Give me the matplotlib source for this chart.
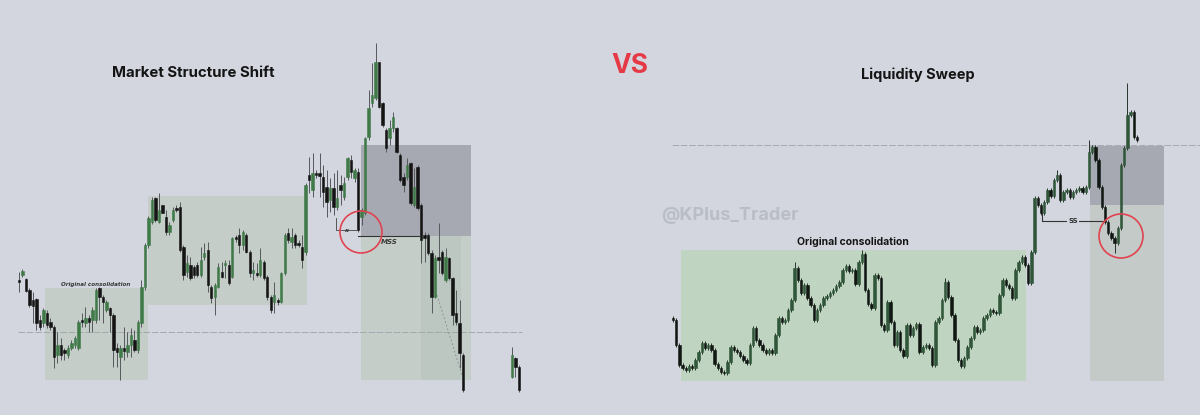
"""Market Structure Shift vs Liquidity Sweep - two hand-drawn candle sketches."""
import numpy as np
import matplotlib
matplotlib.use('Agg')
import matplotlib.pyplot as plt
from matplotlib.patches import Rectangle, Circle

# levels (y grows downwards, like the image)

# --- left panel: market structure shift ---
left_open = [280, 275, 279, 290, 300, 299, 320, 323, 313, 322, 327, 355, 345, 350, 355, 348,
             345, 348, 320, 323, 318, 320, 320, 288, 297, 310, 308, 315, 348, 357, 348, 352,
             345, 340, 350, 323, 287, 245, 222, 198, 222, 205, 217, 232, 220, 208, 207, 247,
             272, 265, 267, 265, 275, 257, 250, 287, 297, 287, 272, 265, 265, 277, 237, 235,
             245, 235, 252, 273, 273, 275, 262, 277, 297, 302, 300, 302, 273, 233, 242, 235,
             243, 247, 252, 175, 190, 173, 173, 177, 187, 200, 188, 207, 185, 197, 177, 160,
             178, 172, 217, 213, 137, 103, 98, 62, 103, 130, 138, 128, 128, 155, 177, 177,
             163, 205, 167, 205, 235, 235, 253, 297, 257, 252, 280, 258, 278, 313, 323, 355]
left_close = [282, 271, 291, 305, 306, 323, 327, 310, 325, 327, 357, 345, 355, 353, 348, 343,
              338, 322, 322, 318, 322, 310, 290, 297, 302, 302, 315, 350, 352, 348, 351, 345,
              335, 350, 322, 287, 245, 218, 200, 220, 210, 213, 232, 225, 210, 210, 250, 275,
              263, 278, 275, 275, 260, 253, 285, 298, 285, 267, 277, 263, 283, 238, 239, 245,
              232, 252, 273, 270, 275, 260, 278, 297, 310, 295, 302, 273, 235, 240, 237, 245,
              245, 260, 185, 180, 173, 175, 176, 192, 202, 188, 207, 198, 190, 183, 158, 172,
              170, 230, 210, 138, 108, 95, 62, 107, 125, 148, 128, 117, 152, 180, 185, 165,
              203, 187, 208, 240, 238, 253, 297, 258, 260, 273, 257, 278, 315, 322, 353, 390]
left_high = [272, 269, 278, 288, 292, 298, 315, 308, 310, 318, 325, 332, 338, 348, 345, 340,
             336, 320, 313, 307, 315, 307, 288, 287, 295, 300, 307, 313, 343, 345, 327, 332,
             328, 330, 320, 280, 243, 216, 197, 197, 193, 205, 210, 222, 207, 205, 202, 245,
             255, 257, 265, 262, 247, 243, 242, 285, 283, 263, 262, 260, 260, 237, 235, 228,
             230, 233, 250, 262, 263, 248, 260, 275, 295, 282, 298, 272, 233, 228, 228, 233,
             240, 235, 183, 157, 153, 170, 153, 165, 170, 178, 173, 170, 175, 177, 157, 155,
             168, 168, 208, 137, 90, 63, 43, 62, 102, 128, 120, 112, 127, 153, 173, 158,
             162, 168, 165, 203, 232, 233, 250, 255, 223, 250, 248, 257, 277, 290, 300, 353]
left_low = [292, 277, 292, 307, 323, 330, 330, 327, 328, 330, 368, 363, 360, 360, 358, 350,
            348, 350, 327, 327, 332, 332, 323, 320, 323, 312, 332, 367, 367, 380, 360, 357,
            357, 352, 353, 327, 290, 248, 224, 222, 223, 213, 235, 235, 222, 212, 252, 280,
            277, 280, 278, 277, 277, 260, 292, 303, 315, 288, 278, 278, 285, 278, 242, 253,
            250, 253, 277, 280, 277, 277, 280, 300, 313, 313, 305, 303, 275, 243, 248, 248,
            247, 268, 255, 193, 197, 178, 197, 207, 217, 212, 215, 210, 205, 200, 180, 178,
            182, 232, 225, 215, 140, 107, 100, 108, 127, 152, 145, 132, 153, 182, 192, 180,
            205, 207, 210, 263, 262, 255, 313, 298, 273, 275, 282, 280, 325, 325, 368, 392]
# three candles after the gap at the right edge
tail_open = [377, 358, 367]
tail_close = [355, 367, 390]
tail_high = [347, 357, 365]
tail_low = [378, 377, 392]

# --- right panel: liquidity sweep (closes, one per candle) ---
right_close = [320, 345, 365, 368, 370, 366, 368, 360, 352, 343, 348, 345, 350, 364, 368, 372,
               373, 362, 347, 350, 352, 356, 360, 363, 345, 328, 340, 345, 350, 353, 350, 353,
               335, 318, 322, 320, 310, 300, 268, 280, 293, 285, 298, 305, 320, 310, 305, 298,
               296, 293, 290, 286, 282, 270, 266, 271, 270, 284, 262, 254, 290, 304, 308, 275,
               278, 325, 330, 302, 322, 345, 332, 350, 356, 325, 335, 328, 324, 352, 347, 345,
               348, 365, 322, 318, 300, 282, 297, 315, 340, 360, 366, 358, 347, 338, 327, 332,
               330, 318, 315, 310, 312, 313, 295, 280, 285, 288, 298, 270, 262, 257, 265, 283,
               252, 198, 205, 213, 202, 190, 196, 180, 175, 200, 192, 190, 197, 192, 190, 188,
               192, 187, 152, 147, 160, 187, 207, 222, 233, 238, 243, 228, 165, 148, 115, 112,
               137, 140]
right_first_open = 318
right_spike_high = {38: 262, 59: 250, 85: 278, 120: 170, 130: 140, 142: 83}
right_spike_low = {138: 253}

BG = '#d3d6de'
BOX = '#c5cdc9'
DARK_BOX = '#a7a9b2'
GREEN = '#3f7a48'
BLACK = '#141414'
RED = '#e0434f'


def draw_candles(ax, xs, o, c, h, l, up, down, width, wick_col, wick_lw):
    o, c, h, l = map(np.asarray, (o, c, h, l))
    bull = c < o   # y grows downwards, so a rising close is a smaller number
    cols = np.where(bull, up, down)
    ax.vlines(xs, h, l, color=wick_col, lw=wick_lw, zorder=3)
    ax.bar(xs, c - o, bottom=o, width=width, color=cols, edgecolor=cols,
           linewidth=0.4, zorder=4)


fig = plt.figure(figsize=(12, 4.15), dpi=100)
fig.patch.set_facecolor(BG)
ax = fig.add_axes([0, 0, 1, 1])
ax.set_xlim(0, 1200)
ax.set_ylim(415, 0)
ax.axis('off')

# ---- left panel zones ----
for x0, y0, x1, y1, col in [(45, 288, 148, 380, BOX), (148, 196, 307, 305, BOX),
                            (361, 145, 471, 236, DARK_BOX), (361, 236, 471, 380, BOX),
                            (421, 236, 461, 380, '#bdc7c1')]:
    ax.add_patch(Rectangle((x0, y0), x1 - x0, y1 - y0, color=col, lw=0, zorder=1))
ax.plot([18, 522], [332, 332], color='#9fa2aa', lw=0.6, ls=(0, (8, 2)), zorder=2)
ax.plot([437, 462], [295, 375], color='#8f9690', lw=0.7, ls=(0, (2, 2)), zorder=2)

step = (463 - 19) / (len(left_close) - 1)
xs_left = 19 + step * np.arange(len(left_close))
draw_candles(ax, xs_left, left_open, left_close, left_high, left_low,
             GREEN, BLACK, 2.4, '#55595c', 0.7)
xs_tail = xs_left[-1] + step * (14 + np.arange(len(tail_close)))
draw_candles(ax, xs_tail, tail_open, tail_close, tail_high, tail_low,
             GREEN, BLACK, 2.4, '#55595c', 0.7)

ax.plot([336, 336, 357], [218, 230, 230], color='#444', lw=0.6, zorder=5)
ax.text(346, 230, 'x', fontsize=4.5, style='italic', weight='bold', color='#333',
        ha='center', va='center', zorder=6)
ax.plot([358, 420], [236, 236], color='#333', lw=0.8, zorder=5)
ax.text(389, 242, 'MSS', fontsize=5, style='italic', weight='bold', color='#3a3a3a',
        ha='center', va='center', zorder=6)
ax.add_patch(Circle((361, 232), 21, fill=False, ec=RED, lw=1.2, zorder=7))

ax.text(193, 73, 'Market Structure Shift', fontsize=10.8, weight='bold',
        family=['Inter', 'DejaVu Sans'], color='#141414', ha='center', va='center')
ax.text(96, 284, 'Original consolidation', fontsize=4.1, weight='bold', style='italic',
        color='#3a3a3a', ha='center', va='center', zorder=6)

# ---- VS + watermark ----
ax.text(630, 66, 'VS', fontsize=19, weight='bold', family=['Inter', 'DejaVu Sans'],
        color='#e63946', ha='center', va='center')
ax.text(730, 215, '@KPlus_Trader', fontsize=13, weight='bold',
        family=['Inter', 'DejaVu Sans'], color='#b9bdc6', ha='center', va='center')

# ---- right panel zones ----
for x0, y0, x1, y1, col in [(681, 250, 1026, 381, '#bfd4c1'),
                            (1090, 146, 1164, 205, DARK_BOX),
                            (1090, 205, 1164, 381, '#c4cac7')]:
    ax.add_patch(Rectangle((x0, y0), x1 - x0, y1 - y0, color=col, lw=0, zorder=1))
ax.plot([672, 1200], [145, 145], color='#9fa2aa', lw=0.6, ls=(0, (8, 2)), zorder=2)

r_open = np.asarray([right_first_open] + right_close[:-1])
r_close = np.asarray(right_close)
r_high = np.minimum(r_open, r_close) - 2.0
r_low = np.maximum(r_open, r_close) + 2.0
for i, v in right_spike_high.items():
    r_high[i] = v
for i, v in right_spike_low.items():
    r_low[i] = v
rstep = (1137 - 673) / (len(right_close) - 1)
xs_right = 673 + rstep * np.arange(len(right_close))
draw_candles(ax, xs_right, r_open, r_close, r_high, r_low,
             '#30573a', '#111813', 2.3, '#26332a', 0.7)

ax.plot([1042, 1042, 1103], [207, 221, 221], color='#333', lw=0.8, zorder=5)
ax.text(1073, 221, 'SS', fontsize=5, weight='bold', color='#333', ha='center',
        va='center', zorder=6,
        bbox=dict(boxstyle='square,pad=0.15', fc=BG, ec='none'))
ax.add_patch(Circle((1121, 236), 22, fill=False, ec=RED, lw=1.2, zorder=7))

ax.text(918, 75, 'Liquidity Sweep', fontsize=10.5, weight='bold',
        family=['Inter', 'DejaVu Sans'], color='#141414', ha='center', va='center')
ax.text(853, 242, 'Original consolidation', fontsize=7.5, weight='bold',
        family=['Inter', 'DejaVu Sans'], color='#141414', ha='center', va='center', zorder=6)

fig.savefig('out.png', dpi=100, facecolor=BG)
